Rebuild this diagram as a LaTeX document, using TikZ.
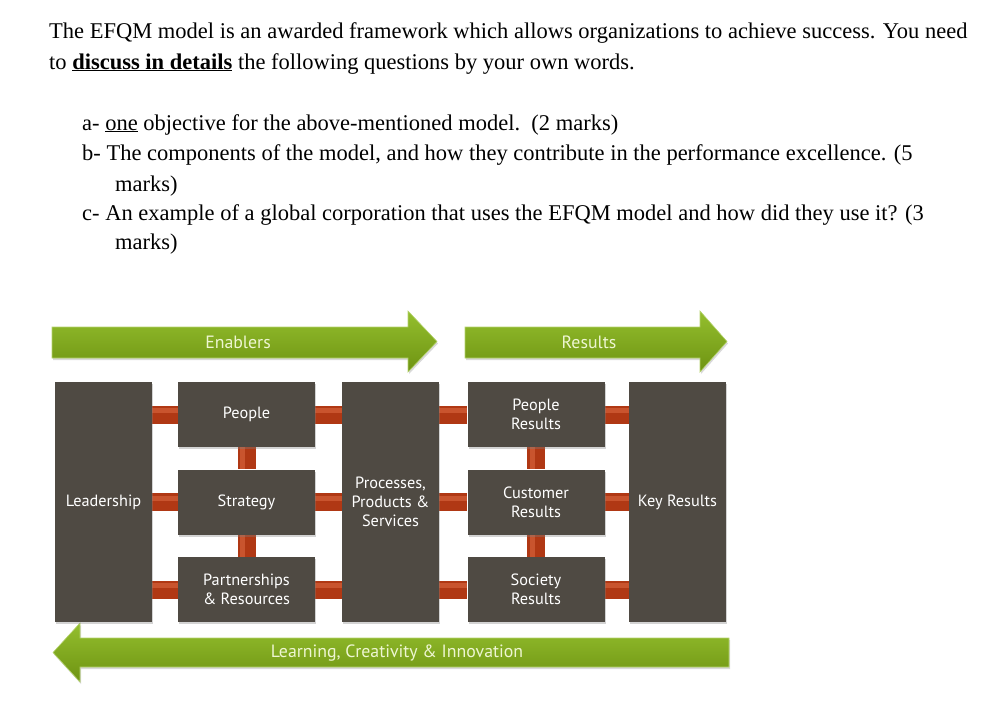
\documentclass[tikz,border=0pt]{standalone}
\usepackage{fontspec}
\setmainfont{Liberation Serif}
\newfontfamily\dsans{PT Sans}
\usetikzlibrary{shadows,backgrounds}
\definecolor{boxc}{HTML}{4F4A43}
\definecolor{barc}{HTML}{B03814}
\definecolor{barl}{HTML}{D4603A}
\definecolor{gtop}{HTML}{94BF2E}
\definecolor{gbot}{HTML}{6E9312}
\definecolor{gtext}{HTML}{EEF6D2}
\tikzset{
  txt/.style={anchor=base west, inner sep=0pt, font=\fontsize{22.5}{27}\selectfont},
  box/.style={fill=boxc, text=white, align=center, inner sep=0pt,
    font=\dsans\fontsize{16.3}{19}\selectfont,
    drop shadow={shadow xshift=1pt, shadow yshift=-2pt, opacity=0.35}},
  tall/.style={box, minimum width=97pt, minimum height=240pt},
  small/.style={box, minimum width=137pt, minimum height=65pt},
  hbar/.style={line width=18pt, draw=barc},
  hlite/.style={line width=5pt, draw=barl, opacity=0.7},
  garrow/.style={top color=gtop, bottom color=gbot, draw=gtop!70!white, line width=0.6pt,
    drop shadow={shadow xshift=1pt, shadow yshift=-2pt, opacity=0.3}},
  glabel/.style={text=gtext, inner sep=0pt, font=\dsans\fontsize{17.8}{20}\selectfont}
}
\begin{document}
\begin{tikzpicture}[x=1pt,y=-1pt]
\useasboundingbox (0,0) rectangle (988,713);
% question text
\node[txt] (l1) at (49,38) {The EFQM model is an awarded framework which allows organizations to achieve success. You need};
\node[txt] (l2) at (49,69) {to \underline{\textbf{discuss in details}} the following questions by your own words.};
\node[txt] (qa) at (82,130) {a- \underline{one} objective for the above-mentioned model.\ \ (2 marks)};
\node[txt] (qb) at (82,160) {b- The components of the model, and how they contribute in the performance excellence. (5};
\node[txt] (qb2) at (115,191) {marks)};
\node[txt] (qc) at (82,220) {c- An example of a global corporation that uses the EFQM model and how did they use it? (3};
\node[txt] (qc2) at (115,249) {marks)};
% green arrows
\shade[garrow] (52,327) -- (408,327) -- (408,311) -- (437,341.5) -- (408,372) -- (408,358) -- (52,358) -- cycle;
\node[glabel] (enab) at (238,342) {Enablers};
\shade[garrow] (465,327) -- (700,327) -- (700,311) -- (727,341.5) -- (700,372) -- (700,358) -- (465,358) -- cycle;
\node[glabel] (res) at (589,342) {Results};
\shade[garrow] (729,638) -- (80,638) -- (80,623) -- (53,652.5) -- (80,682) -- (80,667) -- (729,667) -- cycle;
\node[glabel] (lci) at (397,653) {Learning, Creativity \& Innovation};
% boxes
\node[tall] (lead) at (103.5,502) {Leadership};
\node[small] (peop) at (246.5,414.5) {People};
\node[small] (strat) at (246.5,502) {Strategy};
\node[small] (part) at (246.5,589.5) {Partnerships\\\& Resources};
\node[tall] (proc) at (390.5,502) {Processes,\\Products \&\\Services};
\node[small] (pres) at (536,414.5) {People\\Results};
\node[small] (cres) at (536,502) {Customer\\Results};
\node[small] (sres) at (536,589.5) {Society\\Results};
\node[tall] (key) at (677.5,502) {Key Results};
% connectors
\begin{scope}[on background layer]
\foreach \a/\b in {lead/peop, lead/strat, lead/part, proc/pres, proc/cres, proc/sres}{
  \draw[hbar] (\a.east |- \b.west) -- (\b.west);
  \draw[hlite] ([yshift=4pt]\a.east |- \b.west) -- ([yshift=4pt]\b.west);
}
\foreach \a/\b in {peop/proc, strat/proc, part/proc, pres/key, cres/key, sres/key}{
  \draw[hbar] (\a.east) -- (\a.east -| \b.west);
  \draw[hlite] ([yshift=4pt]\a.east) -- ([yshift=4pt]\a.east -| \b.west);
}
\foreach \a/\b in {peop/strat, strat/part, pres/cres, cres/sres}{
  \draw[hbar] (\a.south) -- (\b.north);
  \draw[hlite] ([xshift=-4pt]\a.south) -- ([xshift=-4pt]\b.north);
}
\end{scope}
\end{tikzpicture}
\end{document}
